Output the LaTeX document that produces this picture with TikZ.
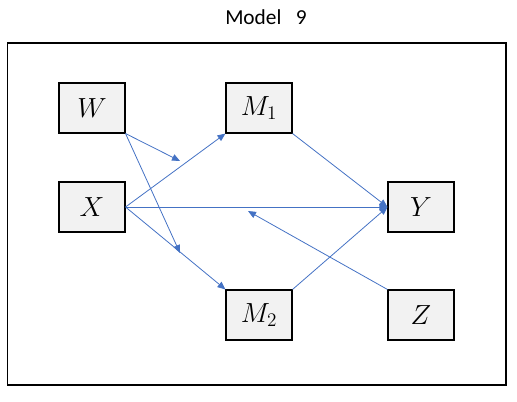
\documentclass[tikz,border=0pt]{standalone}
\usepackage{fontspec}
\newfontfamily\titlefont{Carlito}
\usetikzlibrary{arrows.meta}
\definecolor{pathblue}{HTML}{4472C4}
\definecolor{boxgray}{HTML}{F2F2F2}
\tikzset{
  var/.style={draw,fill=boxgray,line width=0.8pt,minimum width=49.5pt,minimum height=37.5pt,inner sep=0pt,font=\fontsize{21}{25}\selectfont},
  path/.style={draw=pathblue,line width=0.6pt,-{Triangle[width=5pt,length=6pt]}}
}
\begin{document}
\begin{tikzpicture}[x=0.75pt,y=-0.75pt]
\useasboundingbox (0,0) rectangle (517,401);
%frame and title
\draw[line width=0.8pt] (7.5,43) rectangle (506,385);
\node[font=\titlefont\fontsize{16}{19}\selectfont] (title) at (266,17) {Model\ \ \ 9};
%variables
\node[var] (W) at (92,108) {$W$};
\node[var] (M1) at (259,108) {$M_1$};
\node[var] (X) at (92,207) {$X$};
\node[var] (Y) at (421,207) {$Y$};
\node[var] (M2) at (259,315) {$M_2$};
\node[var] (Z) at (421,315) {$Z$};
\coordinate (wa) at (180,161);
\coordinate (wb) at (180,253);
\coordinate (za) at (248,211);
%paths
\draw[path] (X.east) -- (M1.south west);
\draw[path] (X.east) -- (M2.north west);
\draw[path] (X.east) -- (Y.west);
\draw[path] (M1.south east) -- (Y.west);
\draw[path] (M2.north east) -- (Y.west);
\draw[path] (W.south east) -- (wa);
\draw[path] (W.south east) -- (wb);
\draw[path] (Z.north west) -- (za);
\end{tikzpicture}
\end{document}
